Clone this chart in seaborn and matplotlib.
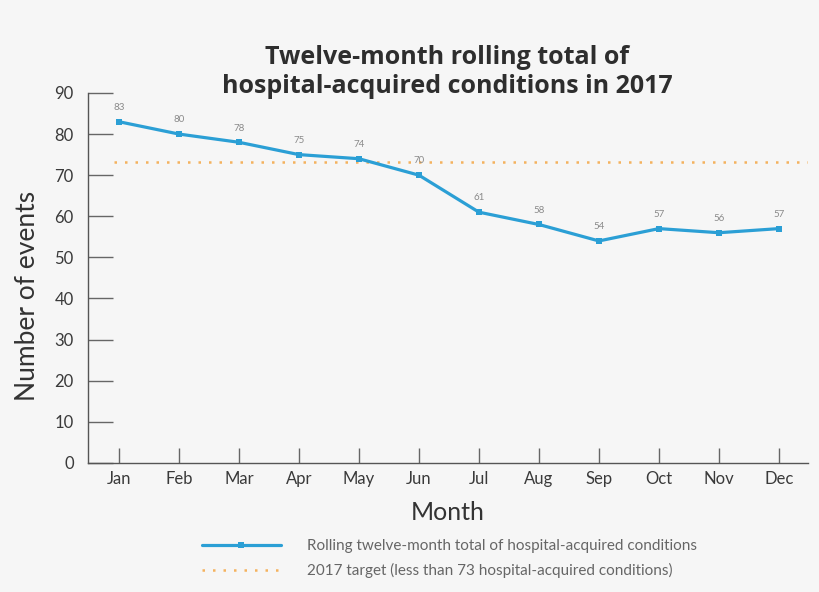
import matplotlib
matplotlib.use("Agg")
import matplotlib.pyplot as plt
import seaborn as sns
import pandas as pd

months = ["Jan", "Feb", "Mar", "Apr", "May", "Jun", "Jul", "Aug", "Sep", "Oct", "Nov", "Dec"]
rolling_total = [83, 80, 78, 75, 74, 70, 61, 58, 54, 57, 56, 57]
target = 73.3

df = pd.DataFrame({"Month": months, "Events": rolling_total})
df["pos"] = range(len(months))

sns.set_theme(style="white")
plt.rcParams["font.family"] = ["Lato", "DejaVu Sans"]

fig = plt.figure(figsize=(8.2, 5.92), dpi=100, facecolor="#f6f6f6")
ax = fig.add_axes([0.107, 0.218, 0.878, 0.625])
ax.set_facecolor("#f6f6f6")

blue = "#2b9fd5"
orange = "#f4b25e"

ax.axhline(target, xmin=0.037, xmax=1.0, color=orange, lw=1.8, ls=(0, (1, 3.2)),
           label="2017 target (less than 73 hospital-acquired conditions)")
sns.lineplot(data=df, x="pos", y="Events", ax=ax, color=blue, lw=2.3, marker="s",
             markersize=4.5, markeredgewidth=0,
             label="Rolling twelve-month total of hospital-acquired conditions")

for x, y in zip(df["pos"], df["Events"]):
    ax.annotate(str(y), (x, y), xytext=(0, 7), textcoords="offset points",
                ha="center", va="bottom", fontsize=7, color="#8a8a8a")

ax.set_xlim(-0.52, 11.48)
ax.set_ylim(0, 90)
ax.set_xticks(range(len(months)))
ax.set_xticklabels(months)
ax.set_yticks(range(0, 91, 10))
sns.despine(ax=ax)
for s in ["left", "bottom"]:
    ax.spines[s].set_color("#555555")
    ax.spines[s].set_linewidth(1.0)
ax.tick_params(axis="y", left=True, direction="in", length=18, width=1, color="#666666",
               labelsize=12, labelcolor="#3a3a3a", pad=10)
ax.tick_params(axis="x", bottom=True, direction="in", length=11, width=1, color="#666666",
               labelsize=12, labelcolor="#3a3a3a", pad=6)

ax.set_xlabel("Month", fontsize=18, color="#333333", labelpad=10)
ax.set_ylabel("Number of events", fontsize=19, color="#333333")
ax.yaxis.set_label_coords(-0.067, 0.451)

fig.text(0.545, 0.878, "Twelve-month rolling total of\nhospital-acquired conditions in 2017",
         ha="center", va="center", fontsize=18, fontweight="bold", color="#2e2e2e",
         linespacing=1.2, family=["Open Sans", "DejaVu Sans"])

handles, labels = ax.get_legend_handles_labels()
ax.get_legend().remove()
order = [1, 0]
fig.legend([handles[i] for i in order], [labels[i] for i in order],
           loc="center", bbox_to_anchor=(0.548, 0.056), frameon=False,
           fontsize=11, labelcolor="#666666", handlelength=5.2, handletextpad=1.7,
           labelspacing=0.65)

fig.savefig("out.png", dpi=100, facecolor=fig.get_facecolor())
